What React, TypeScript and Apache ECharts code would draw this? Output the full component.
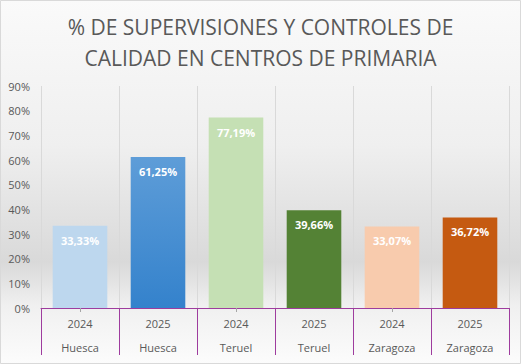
import React, { useEffect, useRef } from "react";
import * as echarts from "echarts";

const years = ["2024", "2025", "2024", "2025", "2024", "2025"];
const provinces = ["Huesca", "Huesca", "Teruel", "Teruel", "Zaragoza", "Zaragoza"];
const values = [33.33, 61.25, 77.19, 39.66, 33.07, 36.72];
const yTicks = { min: 0, max: 90, interval: 10 };

const barColors: any[] = [
  "#BDD7EE",
  new echarts.graphic.LinearGradient(0, 0, 0, 1, [
    { offset: 0, color: "#5E9DD8" },
    { offset: 1, color: "#3482CC" },
  ]),
  "#C5E0B4",
  "#548235",
  "#F8CBAD",
  "#C55A11",
];

export default function App() {
  const ref = useRef<HTMLDivElement>(null);
  useEffect(() => {
    const chart = echarts.init(ref.current!, undefined, { renderer: "svg" });
    const cats = years.map((y, i) => `${y}|${provinces[i]}`);
    chart.setOption({
      animation: false,
      backgroundColor: new echarts.graphic.LinearGradient(0, 0, 0, 1, [
        { offset: 0, color: "#FAFAFA" },
        { offset: 0.4, color: "#EFEFEF" },
        { offset: 0.72, color: "#D9D9D9" },
        { offset: 0.84, color: "#F0F0F0" },
        { offset: 1, color: "#FCFCFC" },
      ]),
      title: {
        text: "% DE SUPERVISIONES Y CONTROLES DE\nCALIDAD EN CENTROS DE PRIMARIA",
        left: "center",
        top: 6,
        textStyle: {
          fontFamily: "Open Sans",
          fontSize: 21,
          fontWeight: "normal",
          color: "#595959",
          lineHeight: 31,
        },
      },
      graphic: [
        {
          type: "rect",
          shape: { x: 0.5, y: 0.5, width: 520, height: 363 },
          style: { fill: "none", stroke: "#D9D9D9", lineWidth: 1 },
          silent: true,
        },
      ],
      grid: { left: 41, right: 12, top: 86, bottom: 56 },
      xAxis: [
        {
          type: "category",
          data: cats,
          axisLine: { show: true, lineStyle: { color: "#9E3C9E", width: 1 } },
          axisTick: { show: true, alignWithLabel: false, length: 47, lineStyle: { color: "#9E3C9E" } },
          splitLine: { show: true, lineStyle: { color: "#D9D9D9" } },
          axisLabel: {
            margin: 3,
            interval: 0,
            formatter: (v: string) => {
              const [y, p] = v.split("|");
              return `{y|${y}}\n{p|${p}}`;
            },
            rich: {
              y: { fontFamily: "Open Sans", fontSize: 11, color: "#595959", lineHeight: 24 },
              p: { fontFamily: "Open Sans", fontSize: 11, color: "#595959", lineHeight: 24 },
            },
          },
        },
        {
          type: "category",
          data: cats,
          position: "bottom",
          axisLine: { show: false },
          axisTick: { show: true, alignWithLabel: true, length: 4, lineStyle: { color: "#A6A6A6" } },
          axisLabel: { show: false },
          splitLine: { show: false },
        },
      ],
      yAxis: {
        type: "value",
        min: yTicks.min,
        max: yTicks.max,
        interval: yTicks.interval,
        axisLine: { show: false },
        axisTick: { show: false },
        splitLine: { show: false },
        axisLabel: {
          formatter: "{value}%",
          fontFamily: "Open Sans",
          fontSize: 11,
          color: "#595959",
          margin: 11,
        },
      },
      series: [
        {
          type: "bar",
          barWidth: "70%",
          data: values.map((v, i) => ({ value: v, itemStyle: { color: barColors[i] } })),
          label: {
            show: true,
            position: "insideTop",
            distance: 9,
            formatter: (p: any) => p.value.toFixed(2).replace(".", ",") + "%",
            fontFamily: "Open Sans",
            fontSize: 11,
            fontWeight: "bold",
            color: "#FFFFFF",
          },
        },
      ],
    });
    return () => chart.dispose();
  }, []);
  return (
    <div
      ref={ref}
      style={{ position: "absolute", left: 0, top: 0, width: 521, height: 364 }}
    />
  );
}
